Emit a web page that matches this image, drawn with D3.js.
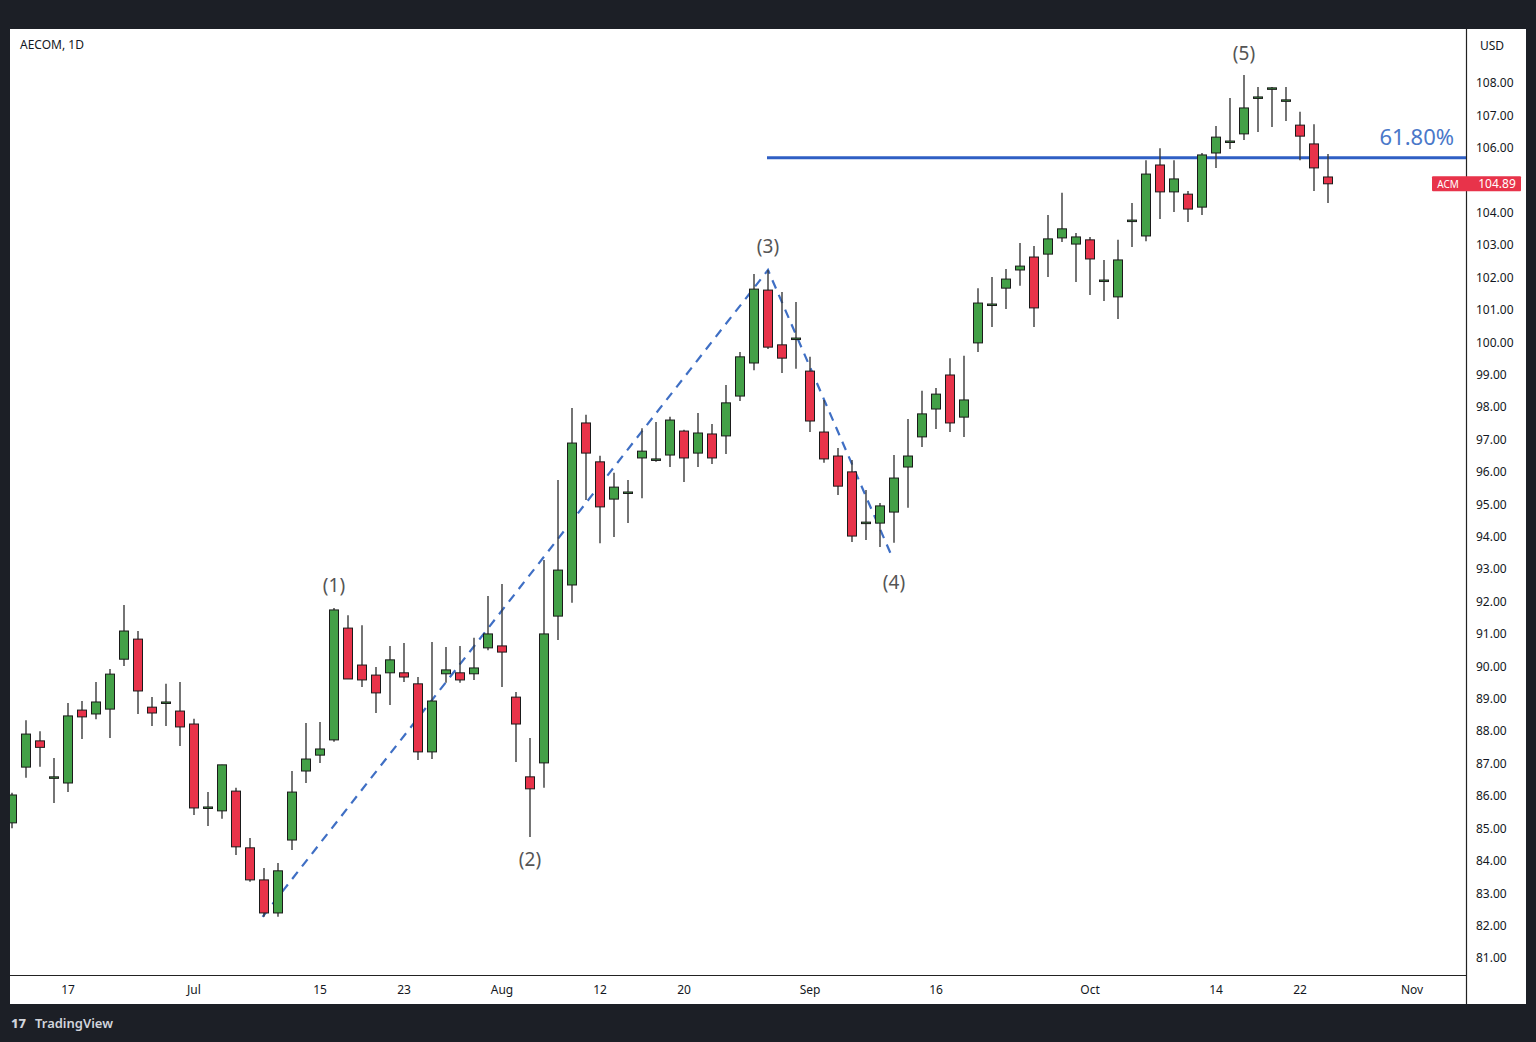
<!DOCTYPE html>
<html>
<head>
<meta charset="utf-8">
<script src="https://cdn.jsdelivr.net/npm/d3@7"></script>
<style>
  html, body { margin: 0; padding: 0; background: #1c1f26; }
  svg { display: block; font-family: "Noto Sans", "DejaVu Sans", sans-serif; }
</style>
</head>
<body>
<svg id="chart" width="1536" height="1042"></svg>
<script>
// daily candles, Jun 11 -> Oct 24 (trading days)
const opens = [85.17, 86.89, 87.7, 86.59, 86.40, 88.65, 88.53, 88.68, 90.22, 90.84, 88.74, 88.9, 88.62,
  88.22, 85.66, 85.54, 86.15, 84.40, 83.41, 82.39, 84.64, 86.77, 87.26, 87.73, 91.18, 90.04, 89.73, 89.80,
  89.80, 89.46, 87.36, 89.77, 89.80, 89.77, 90.57, 90.63, 89.05, 86.59, 87.02, 91.55, 92.51, 97.51, 96.31,
  95.16, 95.38, 96.43, 96.40, 96.52, 97.26, 96.58, 97.17, 97.11, 98.34, 99.36, 101.61, 99.92, 100.13, 99.11,
  97.23, 96.49, 96.0, 94.45, 94.42, 94.76, 96.15, 97.08, 97.94, 98.99, 97.69, 99.98, 101.18, 101.67, 102.23,
  102.63, 102.72, 103.22, 103.03, 103.16, 101.92, 101.40, 103.77, 103.28, 105.47, 104.64, 104.57, 104.17,
  105.84, 106.21, 106.43, 107.57, 107.85, 107.48, 106.70, 106.12, 105.10]
const highs = [86.1, 88.34, 88.0, 87.17, 88.87, 88.93, 89.52, 89.92, 91.89, 91.09, 89.05, 89.46, 89.52,
  88.38, 86.12, 86.96, 86.25, 84.70, 83.78, 83.93, 86.77, 88.25, 88.28, 91.80, 91.58, 91.27, 89.98, 90.63,
  90.72, 89.67, 90.75, 90.60, 90.63, 90.88, 92.17, 92.54, 89.21, 87.79, 93.28, 95.75, 97.97, 97.76, 96.5,
  95.97, 95.75, 97.35, 97.54, 97.7, 97.3, 97.82, 97.48, 98.68, 99.70, 102.11, 102.23, 101.55, 101.24, 99.55,
  98.22, 96.74, 96.37, 95.44, 95.04, 96.52, 97.63, 98.50, 98.59, 99.51, 99.58, 101.67, 102.01, 102.26, 103.06,
  102.97, 103.93, 104.61, 103.37, 103.25, 102.54, 103.16, 104.30, 105.62, 105.99, 105.62, 104.67, 105.84,
  106.67, 107.54, 108.25, 107.88, 107.88, 107.88, 107.11, 106.73, 105.81]
const lows = [85.0, 86.56, 86.9, 85.78, 86.12, 87.76, 88.37, 87.79, 90.01, 88.53, 88.16, 88.16, 87.54,
  85.41, 85.07, 85.3, 84.18, 83.35, 82.27, 82.27, 84.33, 86.40, 87.02, 87.67, 89.61, 89.36, 88.56, 88.81,
  89.52, 87.11, 87.14, 89.49, 89.49, 89.58, 90.5, 89.36, 87.05, 84.73, 86.25, 90.81, 91.96, 95.13, 93.8,
  93.99, 94.42, 95.19, 96.31, 96.15, 95.69, 96.15, 96.24, 96.55, 98.19, 99.14, 99.79, 99.05, 99.18, 97.23,
  96.28, 95.29, 93.84, 93.90, 93.68, 93.81, 94.89, 96.77, 97.32, 97.23, 97.08, 99.70, 100.47, 101.03, 101.74,
  100.47, 102.01, 103.09, 101.86, 101.46, 101.27, 100.72, 102.94, 103.12, 103.80, 104.02, 103.71, 103.93,
  105.38, 105.96, 106.24, 106.49, 106.64, 106.83, 105.62, 104.67, 104.30]
const closes = [86.03, 87.91, 87.5, 86.59, 88.47, 88.44, 88.90, 89.76, 91.09, 89.24, 88.56, 88.9, 88.13,
  85.63, 85.66, 86.96, 84.43, 83.41, 82.39, 83.69, 86.12, 87.14, 87.45, 91.74, 89.61, 89.58, 89.18, 90.20,
  89.67, 87.36, 88.93, 89.89, 89.58, 89.95, 91.00, 90.44, 88.22, 86.22, 91.0, 92.97, 96.89, 96.58, 94.92,
  95.53, 95.38, 96.64, 96.40, 97.60, 96.43, 97.20, 96.43, 98.13, 99.55, 101.64, 99.85, 99.51, 100.13, 97.57,
  96.40, 95.56, 94.02, 94.45, 94.95, 95.81, 96.49, 97.79, 98.40, 97.51, 98.22, 101.21, 101.18, 101.95, 102.35,
  101.06, 103.19, 103.50, 103.25, 102.57, 101.92, 102.54, 103.77, 105.19, 104.64, 105.04, 104.11, 105.78,
  106.33, 106.21, 107.23, 107.57, 107.85, 107.48, 106.36, 105.38, 104.89]

// time axis labels at trading-day index
const timeTicks = [[4, "17"], [13, "Jul"], [22, "15"], [28, "23"], [35, "Aug"], [42, "12"], [48, "20"],
  [57, "Sep"], [66, "16"], [77, "Oct"], [86, "14"], [92, "22"], [100, "Nov"]]
// 105.00 is hidden behind the last-price tag
const priceTicks = d3.range(81, 109).filter(v => v !== 105)

// wave counts: [index, price, label]
const waveLabels = [[23, 92.46, "(1)"], [37, 83.99, "(2)"], [54, 102.91, "(3)"], [63, 92.54, "(4)"], [88, 108.88, "(5)"]]
const wavePath = [[17.9, 82.27], [54, 102.23], [62.9, 93.34]]
const fibLevel = 105.69
const fibStart = 54
const lastPrice = 104.89

const svg = d3.select("#chart")
const plot = { left: 10, right: 1466, top: 29, bottom: 975 }

const x = d3.scaleLinear().domain([0, 100]).range([12, 1412])
const y = d3.scaleLinear().domain([81, 108]).range([958, 83])

// panel
svg.append("rect").attr("x", 10).attr("y", 29).attr("width", 1516).attr("height", 975).attr("fill", "#fff")

const g = svg.append("g")
g.append("clipPath").attr("id", "clip").append("rect")
  .attr("x", plot.left).attr("y", plot.top).attr("width", plot.right - plot.left).attr("height", plot.bottom - plot.top)
const marks = g.append("g").attr("clip-path", "url(#clip)")

// dashed wave
marks.append("path")
  .attr("d", d3.line().x(d => x(d[0])).y(d => y(d[1]))(wavePath))
  .attr("fill", "none").attr("stroke", "#3f6fc4").attr("stroke-width", 2.2).attr("stroke-dasharray", "9,7")

// fib line
marks.append("line")
  .attr("x1", x(fibStart) - 1).attr("x2", plot.right).attr("y1", y(fibLevel)).attr("y2", y(fibLevel))
  .attr("stroke", "#2f5fc4").attr("stroke-width", 3)

const candles = opens.map((o, i) => ({ i, o, h: highs[i], l: lows[i], c: closes[i] }))
const bw = 9

marks.selectAll(".wick").data(candles).join("line")
  .attr("x1", d => x(d.i)).attr("x2", d => x(d.i))
  .attr("y1", d => y(d.h)).attr("y2", d => y(d.l))
  .attr("stroke", "#3a3a3a").attr("stroke-width", 1.4)

marks.selectAll(".body").data(candles).join("rect")
  .attr("x", d => x(d.i) - bw / 2)
  .attr("y", d => y(Math.max(d.o, d.c)))
  .attr("width", bw)
  .attr("height", d => Math.max(1.5, Math.abs(y(d.o) - y(d.c))))
  .attr("fill", d => d.c >= d.o ? "#43a047" : "#e8334a")
  .attr("stroke", "#1b1b1b").attr("stroke-width", 1)

// wave labels
marks.selectAll(".wave").data(waveLabels).join("text")
  .attr("x", d => x(d[0])).attr("y", d => y(d[1]))
  .attr("text-anchor", "middle").attr("dominant-baseline", "middle")
  .attr("font-size", 19).attr("fill", "#555").text(d => d[2])

g.append("text").attr("x", 1454).attr("y", y(fibLevel) - 13).attr("text-anchor", "end")
  .attr("font-size", 22).attr("fill", "#4a78c9").text("61.80%")

// axes frame
svg.append("line").attr("x1", plot.right + 0.5).attr("x2", plot.right + 0.5).attr("y1", 29).attr("y2", 1004)
  .attr("stroke", "#222").attr("stroke-width", 1.2)
svg.append("line").attr("x1", 10).attr("x2", plot.right).attr("y1", plot.bottom + 0.5).attr("y2", plot.bottom + 0.5)
  .attr("stroke", "#222").attr("stroke-width", 1.2)

// price axis
const yAxis = svg.append("g").attr("transform", `translate(${plot.right},0)`)
  .call(d3.axisRight(y).tickValues(priceTicks).tickFormat(d3.format(".2f")).tickSize(0).tickPadding(10))
yAxis.select(".domain").remove()
yAxis.selectAll("text").attr("font-size", 12).attr("fill", "#131722")
  .attr("font-family", "Noto Sans, sans-serif")

svg.append("text").attr("x", 1492).attr("y", 50).attr("text-anchor", "middle")
  .attr("font-size", 12).attr("fill", "#131722").text("USD")

// last price tag
svg.append("rect").attr("x", 1432).attr("y", y(lastPrice) - 7.5).attr("width", 89).attr("height", 15)
  .attr("fill", "#e8334a").attr("rx", 1)
svg.append("text").attr("x", 1448).attr("y", y(lastPrice) + 4).attr("text-anchor", "middle")
  .attr("font-size", 10).attr("fill", "#fff").text("ACM")
svg.append("text").attr("x", 1497).attr("y", y(lastPrice) + 4.5).attr("text-anchor", "middle")
  .attr("font-size", 12).attr("fill", "#fff").text(lastPrice.toFixed(2))

// time axis
svg.selectAll(".tt").data(timeTicks).join("text")
  .attr("x", d => x(d[0])).attr("y", 994).attr("text-anchor", "middle")
  .attr("font-size", 12).attr("fill", "#131722").text(d => d[1])

svg.append("text").attr("x", 20).attr("y", 49).attr("font-size", 12).attr("fill", "#131722").text("AECOM, 1D")

// footer
svg.append("text").attr("x", 11).attr("y", 1028).attr("font-size", 13).attr("font-weight", 800)
  .attr("fill", "#d1d4dc").text("17")
svg.append("text").attr("x", 35).attr("y", 1028).attr("font-size", 13).attr("font-weight", 600)
  .attr("fill", "#d1d4dc").text("TradingView")
</script>
</body>
</html>
